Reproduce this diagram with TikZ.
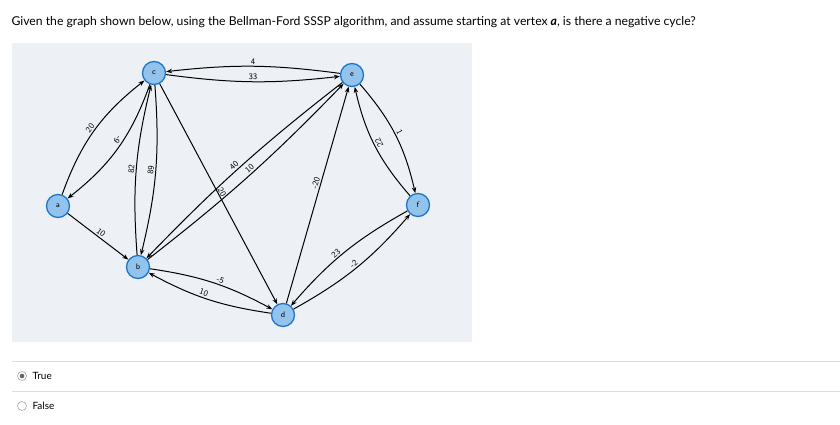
\documentclass[tikz,border=0pt]{standalone}
\usepackage{fontspec}
\setmainfont{Lato}
\usetikzlibrary{arrows.meta}
\definecolor{panel}{HTML}{EDF1F5}
\definecolor{nfill}{HTML}{92C3EC}
\definecolor{nborder}{HTML}{1E76C8}
\definecolor{sep}{HTML}{DDDDDD}
\begin{document}
\begin{tikzpicture}[x=1pt,y=-1pt,
  vtx/.style={circle,draw=nborder,fill=nfill,line width=1.3pt,minimum size=23pt,inner sep=0pt,font=\fontsize{8}{9}\selectfont\sffamily},
  edg/.style={-{Stealth[length=6pt,width=4.5pt]},line width=1pt,black},
  lbl/.style={font=\fontsize{8.5}{9}\selectfont\sffamily,sloped,inner sep=1.5pt}]
\useasboundingbox (0,0) rectangle (840,425);
\fill[white] (0,0) rectangle (840,425);
\node[anchor=west,font=\fontsize{12.2}{14}\selectfont] (title) at (8,22) {Given the graph shown below, using the Bellman-Ford SSSP algorithm, and assume starting at vertex \textbf{\textit{a}}, is there a negative cycle?};
\fill[panel] (12,43) rectangle (472,342);
\node[vtx] (a) at (58,206) {a};
\node[vtx] (c) at (154,73) {c};
\node[vtx] (b) at (138,267) {b};
\node[vtx] (e) at (352,75) {e};
\node[vtx] (f) at (418,205) {f};
\node[vtx] (d) at (283,315) {d};
% a-c
\draw[edg] (a) to[bend left=16] node[lbl,above] {20} (c);
\draw[edg] (c) to[bend left=16] node[lbl,below,pos=0.45,allow upside down] {-9} (a);
\draw[edg] (a) -- node[lbl,above] {10} (b);
% b-c
\draw[edg] (b) to[bend left=9] node[lbl,above] {82} (c);
\draw[edg] (c) to[bend left=9] node[lbl,above] {89} (b);
% c-e
\draw[edg] (e) to[bend right=7] node[lbl,above] {4} (c);
\draw[edg] (c) to[bend right=7] node[lbl,above] {33} (e);
% c-d
\draw[edg] (c) -- node[lbl,above,pos=0.5,inner sep=0.5pt] {20} (d);
% b-e
\draw[edg] (e) to[bend right=4] node[lbl,above,pos=0.52] {40} (b);
\draw[edg] (b) to[bend right=4] node[lbl,above,pos=0.52] {10} (e);
% d-e
\draw[edg] (d) -- node[lbl,above,pos=0.55] {-20} (e);
% e-f
\draw[edg] (e) to[bend left=14] node[lbl,above] {1} (f);
\draw[edg] (f) to[bend left=14] node[lbl,below,allow upside down] {22} (e);
% f-d
\draw[edg] (f) to[bend right=10] node[lbl,above,pos=0.55] {23} (d);
\draw[edg] (d) to[bend right=10] node[lbl,above,pos=0.5] {-2} (f);
% b-d
\draw[edg] (b) to[bend left=10] node[lbl,above,pos=0.55] {-5} (d);
\draw[edg] (d) to[bend left=10] node[lbl,above,pos=0.55] {10} (b);
% options
\draw[sep,line width=0.6pt] (12,361) -- (840,361);
\draw[sep,line width=0.6pt] (12,391) -- (840,391);
\node[circle,draw=gray!70,line width=0.6pt,minimum size=9pt,inner sep=0pt] (r1) at (22,376) {};
\fill[gray!80!black] (r1.center) circle (2.3pt);
\node[anchor=west,font=\fontsize{10}{11}\selectfont] (t1) at (29,376) {True};
\node[circle,draw=gray!70,line width=0.6pt,minimum size=9pt,inner sep=0pt] (r2) at (22,406) {};
\node[anchor=west,font=\fontsize{10}{11}\selectfont] (t2) at (29,406) {False};
\end{tikzpicture}
\end{document}
